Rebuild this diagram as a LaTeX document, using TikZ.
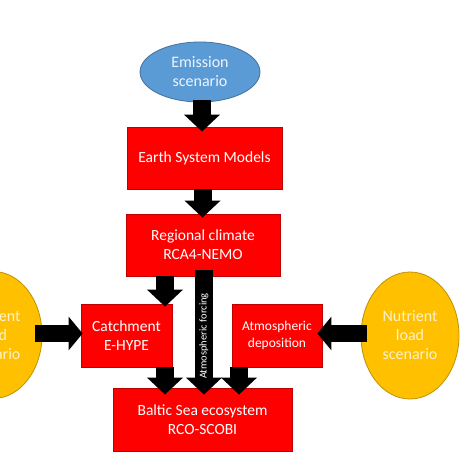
\documentclass[tikz,border=0pt]{standalone}
\usepackage{fontspec}
\setmainfont{Carlito}
\usetikzlibrary{arrows.meta,calc,shapes.geometric}
\definecolor{boxred}{HTML}{FF0000}
\definecolor{boxedge}{HTML}{C00000}
\definecolor{emblue}{HTML}{5B9BD5}
\definecolor{emedge}{HTML}{41719C}
\definecolor{nutor}{HTML}{FFC000}
\definecolor{nutedge}{HTML}{BF9000}
\definecolor{nuttext}{HTML}{FFF2CC}
\definecolor{emtext}{HTML}{EEF4FB}
\begin{document}
\begin{tikzpicture}[x=1pt,y=-1pt,
  box/.style={draw=boxedge, fill=boxred, line width=0.8pt, text=white, align=center, inner sep=0pt, font=\fontsize{15.5}{19}\selectfont},
  ell/.style={ellipse, line width=0.8pt, align=center, inner sep=0pt, font=\fontsize{16}{19}\selectfont},
  nutell/.style={ell, fill=nutor, draw=nutedge, text=nuttext, minimum width=98pt, minimum height=127pt},
  vbig/.style={line width=18pt, -{Triangle[width=35pt,length=17pt]}, black},
  hbig/.style={line width=17pt, -{Triangle[width=33pt,length=14pt]}, black}]
\useasboundingbox (0,0) rectangle (474,474);
\clip (0,0) rectangle (474,474);
\fill[white] (0,0) rectangle (474,474);
\node[ell, fill=emblue, draw=emedge, text=emtext, minimum width=120pt, minimum height=60pt] (emis) at (200,72) {Emission\\scenario};
\node[box, minimum width=155pt, minimum height=62pt] (earth) at (204.5,158) {Earth System Models};
\node[box, minimum width=154pt, minimum height=62pt] (regional) at (203,245) {Regional climate\\RCA4-NEMO};
\node[box, minimum width=91pt, minimum height=63pt] (catch) at (126.5,335.5) {Catchment\\E-HYPE};
\node[box, minimum width=90pt, minimum height=63pt, font=\fontsize{13.5}{17}\selectfont] (atm) at (277,335.5) {Atmospheric\\deposition};
\node[box, minimum width=179pt, minimum height=63pt] (baltic) at (202.5,419.5) {Baltic Sea ecosystem\\RCO-SCOBI};
\node[nutell] (leftell) at (-7,335) {Nutrient\\load\\scenario};
\node[nutell] (rightell) at (410,335.5) {Nutrient\\load\\scenario};
\draw[vbig] ($(emis.south)+(2,-2)$) -- ($(earth.north)+(-2.5,5)$);
\draw[vbig] ($(earth.south)+(-2,0)$) -- ($(regional.north)+(-0.5,4)$);
\draw[vbig] ($(regional.south)+(-38,0)$) -- ($(catch.north)+(38.5,3)$);
\draw[vbig] ($(regional.south)+(1,-6)$) -- ($(baltic.north)+(1.5,7)$);
\draw[vbig] ($(catch.south)+(38.5,0)$) -- ($(baltic.north)+(-37.5,7)$);
\draw[vbig] ($(atm.south)+(-38,0)$) -- ($(baltic.north)+(36.5,7)$);
\draw[hbig] ($(leftell.east)+(-7,-1.5)$) -- ($(catch.west)+(2,-2)$);
\draw[hbig] ($(rightell.west)+(6,-2)$) -- ($(atm.east)+(-5,-2)$);
\node[text=white, rotate=90, inner sep=0pt, font=\fontsize{10.5}{12}\selectfont] (forcing) at (204,336) {Atmospheric forcing};
\end{tikzpicture}
\end{document}
